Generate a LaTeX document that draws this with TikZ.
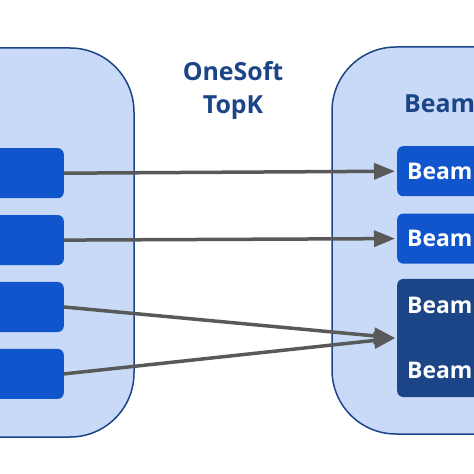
\documentclass[tikz,border=0pt]{standalone}
\usepackage{fontspec}
\setmainfont{Open Sans}
\usetikzlibrary{positioning}
\usetikzlibrary{arrows.meta}
\definecolor{panelblue}{HTML}{C9DAF8}
\definecolor{navy}{HTML}{1C4587}
\definecolor{beamblue}{HTML}{1155CC}
\definecolor{arrowgray}{HTML}{595959}
\tikzset{panel/.style={draw=navy,line width=1.5bp,fill=panelblue,rounded corners=64bp},
         inbox/.style={fill=beamblue,rounded corners=6bp,minimum width=130bp,minimum height=50bp,inner sep=0pt},
         beambox/.style={fill=beamblue,rounded corners=6bp,text=white,
                         font=\bfseries\fontsize{23}{27}\selectfont,
                         text width=130bp,inner xsep=10bp,inner ysep=0pt,align=left,minimum height=50bp},
         mergebox/.style={beambox,fill=navy,minimum height=118bp,font=\bfseries\fontsize{23}{65}\selectfont},
         link/.style={draw=arrowgray,line width=3.5bp,shorten >=2bp,-{Triangle[length=21bp,width=16bp]}},
         title/.style={text=navy,font=\bfseries\fontsize{25}{33}\selectfont,align=center,inner sep=0pt},
         }

\begin{document}
\begin{tikzpicture}[x=1bp,y=-1bp,node distance=16.5bp]
\useasboundingbox (0,0) rectangle (474,474);
% panels
\draw[panel] (-100,48) rectangle (134,437);
\draw[panel] (332,47) rectangle (620,434);
\node[title] (topk) at (233,90.5) {OneSoft\\TopK};
\node[title,anchor=base west] (beamtitle) at (404,113) {Beam};
% inputs
\node[inbox,anchor=north east] (in1) at (64,148) {};
\node[inbox,below=of in1] (in2) {};
\node[inbox,below=of in2] (in3) {};
\node[inbox,below=of in3] (in4) {};
% beams
\node[beambox,anchor=north west] (beam1) at (397,146) {Beam};
\node[beambox,below=17bp of beam1] (beam2) {Beam};
\node[mergebox,below=15bp of beam2] (beam3) {Beam\\Beam};
% links
\draw[link] (in1.east) -- (beam1.west);
\draw[link] (in2.east) -- (beam2.west);
\draw[link] (in3.east) -- (beam3.west);
\draw[link] (in4.east) -- (beam3.west);
\end{tikzpicture}
\end{document}
